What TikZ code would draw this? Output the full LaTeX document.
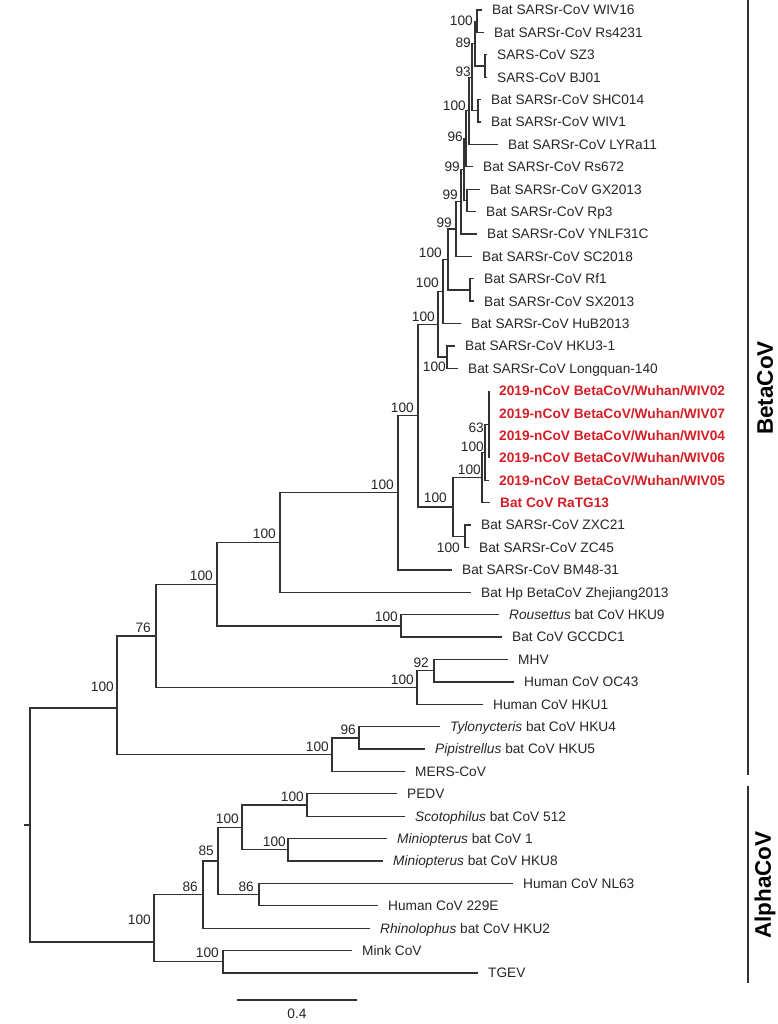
\documentclass[tikz,border=0pt]{standalone}
\usepackage{fontspec}
\setmainfont{Liberation Sans}
\definecolor{ncov}{RGB}{214,30,38}
\definecolor{treeline}{RGB}{50,50,50}

% tip of the tree: coordinate at the branch end, name written after it
\newcommand{\leafat}[5][]{%
  \coordinate (#2) at (#3,{10+22.395*(#4-1)});
  \node[taxon,#1] (#2t) at (#2) {#5};}

\begin{document}
\begin{tikzpicture}[x=1pt,y=-1pt,
    br/.style={draw=treeline, line width=1.3pt, line join=miter},
    taxon/.style={anchor=west, inner xsep=10pt, inner ysep=0pt, text height=9.8pt, text depth=0pt,
      font=\fontsize{13.7}{16}\selectfont, text=black!85},
    ncovt/.style={text=ncov, font=\fontsize{13.7}{16}\selectfont\bfseries},
    boot/.style={anchor=east, inner sep=0pt, text height=9.8pt, text depth=0pt,
      font=\fontsize{13.7}{16}\selectfont, text=black!85},
    cladebar/.style={draw=treeline, line width=1.6pt},
    cladelab/.style={rotate=90, inner sep=0pt, font=\fontsize{22.5}{26}\selectfont\bfseries}]
\useasboundingbox (0,0) rectangle (777,1024);

% tips
\leafat{wiv16}{482}{1}{Bat SARSr-CoV WIV16}
\leafat{rs4231}{484}{2}{Bat SARSr-CoV Rs4231}
\leafat{sz3}{487}{3}{SARS-CoV SZ3}
\leafat{bj01}{487}{4}{SARS-CoV BJ01}
\leafat{shc014}{481}{5}{Bat SARSr-CoV SHC014}
\leafat{wiv1}{481}{6}{Bat SARSr-CoV WIV1}
\leafat{lyra11}{498}{7}{Bat SARSr-CoV LYRa11}
\leafat{rs672}{473}{8}{Bat SARSr-CoV Rs672}
\leafat{gx2013}{480}{9}{Bat SARSr-CoV GX2013}
\leafat{rp3}{476}{10}{Bat SARSr-CoV Rp3}
\leafat{ynlf}{477}{11}{Bat SARSr-CoV YNLF31C}
\leafat{sc2018}{472}{12}{Bat SARSr-CoV SC2018}
\leafat{rf1}{474}{13}{Bat SARSr-CoV Rf1}
\leafat{sx2013}{474}{14}{Bat SARSr-CoV SX2013}
\leafat{hub2013}{461}{15}{Bat SARSr-CoV HuB2013}
\leafat{hku31}{455}{16}{Bat SARSr-CoV HKU3-1}
\leafat{lq140}{458}{17}{Bat SARSr-CoV Longquan-140}
\leafat[ncovt]{wiv02}{489}{18}{2019-nCoV BetaCoV/Wuhan/WIV02}
\leafat[ncovt]{wiv07}{489}{19}{2019-nCoV BetaCoV/Wuhan/WIV07}
\leafat[ncovt]{wiv04}{489}{20}{2019-nCoV BetaCoV/Wuhan/WIV04}
\leafat[ncovt]{wiv06}{489}{21}{2019-nCoV BetaCoV/Wuhan/WIV06}
\leafat[ncovt]{wiv05}{489}{22}{2019-nCoV BetaCoV/Wuhan/WIV05}
\leafat[ncovt]{ratg13}{490}{23}{Bat CoV RaTG13}
\leafat{zxc21}{471}{24}{Bat SARSr-CoV ZXC21}
\leafat{zc45}{469}{25}{Bat SARSr-CoV ZC45}
\leafat{bm4831}{452}{26}{Bat SARSr-CoV BM48-31}
\leafat{zj2013}{471}{27}{Bat Hp BetaCoV Zhejiang2013}
\leafat{hku9}{499}{28}{\textit{Rousettus} bat CoV HKU9}
\leafat{gccdc1}{502}{29}{Bat CoV GCCDC1}
\leafat{mhv}{508}{30}{MHV}
\leafat{oc43}{514}{31}{Human CoV OC43}
\leafat{hku1}{483}{32}{Human CoV HKU1}
\leafat{hku4}{440}{33}{\textit{Tylonycteris} bat CoV HKU4}
\leafat{hku5}{425}{34}{\textit{Pipistrellus} bat CoV HKU5}
\leafat{mers}{405}{35}{MERS-CoV}
\leafat{pedv}{397}{36}{PEDV}
\leafat{bcov512}{405}{37}{\textit{Scotophilus} bat CoV 512}
\leafat{mini1}{387}{38}{\textit{Miniopterus} bat CoV 1}
\leafat{hku8}{383}{39}{\textit{Miniopterus} bat CoV HKU8}
\leafat{nl63}{513}{40}{Human CoV NL63}
\leafat{e229}{378}{41}{Human CoV 229E}
\leafat{hku2}{370}{42}{\textit{Rhinolophus} bat CoV HKU2}
\leafat{mink}{352}{43}{Mink CoV}
\leafat{tgev}{478}{44}{TGEV}

% inner nodes
\coordinate (stub) at (24,825);
\coordinate (root) at (30,825);
\coordinate (b0) at (117,708);
\coordinate (b1) at (156,635.9);
\coordinate (b2) at (217,584.2);
\coordinate (b3) at (280,542.5);
\coordinate (s0) at (398,492.8);
\coordinate (s1) at (418,415.6);
\coordinate (s3) at (438,324.3);
\coordinate (s4) at (443,291.5);
\coordinate (s5) at (448,259.5);
\coordinate (a11) at (456,229);
\coordinate (a10) at (461,201.8);
\coordinate (a9) at (464,169.6);
\coordinate (a7) at (466,138.8);
\coordinate (a8) at (467,200.4);
\coordinate (a6) at (469,110.8);
\coordinate (a4) at (472,77.2);
\coordinate (a2) at (475,43.6);
\coordinate (a1) at (477,21.2);
\coordinate (a3) at (485,66);
\coordinate (a5) at (478,110.8);
\coordinate (rf) at (470,289.9);
\coordinate (k) at (447,357.1);
\coordinate (c) at (453,506.9);
\coordinate (r) at (482,477.5);
\coordinate (v) at (485,452.3);
\coordinate (v1) at (489,424.3);
\coordinate (zz) at (465,536.3);
\coordinate (nob) at (401,625.9);
\coordinate (emb) at (417,687.5);
\coordinate (n92) at (434,670.7);
\coordinate (mer) at (332,754.7);
\coordinate (h45) at (359,737.9);
\coordinate (a0) at (154,942);
\coordinate (q1) at (203,894.6);
\coordinate (q2) at (218,861);
\coordinate (q3) at (242,827.4);
\coordinate (pe) at (307,805);
\coordinate (mi) at (288,849.8);
\coordinate (nl) at (259,894.6);
\coordinate (mk) at (223,961.8);

% branches
\draw[br] (stub) -- (root);
\foreach \p/\c in {root/b0, root/a0, b0/b1, b0/mer, b1/b2, b1/emb, b2/b3, b2/nob,
    b3/s0, b3/zj2013, s0/s1, s0/bm4831, s1/s3, s1/c, s3/s4, s3/k,
    s4/s5, s4/hub2013, s5/a11, s5/rf, a11/a10, a11/sc2018, a10/a9, a10/ynlf,
    a9/a7, a9/a8, a7/a6, a7/rs672, a8/gx2013, a8/rp3, a6/a4, a6/lyra11,
    a4/a2, a4/a5, a2/a1, a2/a3, a1/wiv16, a1/rs4231, a3/sz3, a3/bj01,
    a5/shc014, a5/wiv1, rf/rf1, rf/sx2013, k/hku31, k/lq140,
    c/r, c/zz, r/v, r/ratg13, v/v1, v/wiv05,
    v1/wiv02, v1/wiv07, v1/wiv04, v1/wiv06, zz/zxc21, zz/zc45,
    nob/hku9, nob/gccdc1, emb/n92, emb/hku1, n92/mhv, n92/oc43,
    mer/h45, mer/mers, h45/hku4, h45/hku5,
    a0/q1, a0/mk, q1/q2, q1/hku2, q2/q3, q2/nl, q3/pe, q3/mi,
    pe/pedv, pe/bcov512, mi/mini1, mi/hku8, nl/nl63, nl/e229, mk/mink, mk/tgev}
  \draw[br] (\p) |- (\c);

% bootstrap values
\foreach \x/\y/\t [count=\i] in {473/21/100, 471/43/89, 471/72/93, 466/106/100, 463/137/96,
    460/167/99, 458/195/99, 452/223/99, 442/253/100, 439/283/100, 435/317/100,
    446/367/100, 414/408/100, 394/485/100, 447/498/100, 481/470/100, 484/447/100,
    484/428/63, 460/548/100, 276/534/100, 213/576/100, 151/628/76, 114/687/100,
    398/617/100, 414/680/100, 429/663/92, 329/747/100, 356/730/96,
    151/920/100, 198/887/86, 214/851/85, 239/819/100, 304/797/100, 286/842/100,
    254/887/86, 219/953/100}
  \node[boot] (bs\i) at (\x,\y) {\t};

% clades
\coordinate (betatop) at (748,0);
\coordinate (betabot) at (748,775);
\coordinate (alphatop) at (748,786);
\coordinate (alphabot) at (748,983);
\draw[cladebar] (betatop) -- (betabot);
\draw[cladebar] (alphatop) -- (alphabot);
\node[cladelab] (betalab) at (765,388) {BetaCoV};
\node[cladelab] (alphalab) at (765,885) {AlphaCoV};

% scale bar
\coordinate (sbl) at (237,1000);
\coordinate (sbr) at (357,1000);
\draw[br] (sbl) -- (sbr);
\node[boot, anchor=center] (sblab) at (297,1014) {0.4};
\end{tikzpicture}
\end{document}
